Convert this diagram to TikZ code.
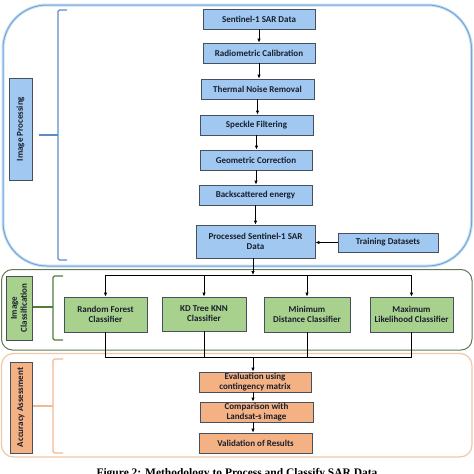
\documentclass[tikz,border=0pt]{standalone}
\usepackage{fontspec}
\setmainfont{Carlito}
\newfontfamily\capfont{Liberation Serif}
\usetikzlibrary{arrows.meta}
\definecolor{bfill}{RGB}{160,200,240}
\definecolor{gfill}{RGB}{169,209,142}
\definecolor{ofill}{RGB}{244,177,131}
\definecolor{edge}{RGB}{70,80,95}
\definecolor{bframe}{RGB}{115,165,215}
\definecolor{bglow}{RGB}{200,225,245}
\definecolor{gframe}{RGB}{100,120,85}
\definecolor{oframe}{RGB}{238,200,170}
\definecolor{bbrack}{RGB}{90,140,200}
\definecolor{gbrack}{RGB}{84,125,60}
\definecolor{obrack}{RGB}{240,185,145}
\definecolor{txt}{RGB}{25,30,45}
\tikzset{
  box/.style={draw=edge, line width=0.8pt, align=center, inner sep=1pt, text=txt,
    font=\fontsize{9}{10}\selectfont\bfseries},
  bluebox/.style={box, fill=bfill},
  greenbox/.style={box, fill=gfill},
  orangebox/.style={box, fill=ofill},
  labelbox/.style={box, rotate=90},
  arr/.style={-{Latex[length=4pt,width=3.5pt]}, line width=0.8pt, black},
  ln/.style={line width=0.8pt, black},
  brk/.style={line width=1.4pt, rounded corners=1.5pt},
}
\begin{document}
\begin{tikzpicture}[x=1pt,y=-1pt]
\useasboundingbox (0,0) rectangle (474,474);
\clip (0,0) rectangle (474,474);
% section frames
\draw[bglow, line width=3pt, rounded corners=44pt] (3,5) rectangle (471.5,266);
\draw[bframe, line width=1pt, rounded corners=44pt] (3,5) rectangle (471.5,266);
\draw[gframe, line width=1pt, rounded corners=11pt] (1.5,269.5) rectangle (472,350);
\draw[oframe, line width=1.2pt, rounded corners=12pt] (1.5,353.5) rectangle (472,457);
% brackets
\draw[brk, bbrack] (67,10) -- (58,10) -- (58,260) -- (67,260);
\draw[brk, bbrack] (39,135) -- (58,135);
\draw[brk, gbrack] (63,276) -- (53,276) -- (53,340) -- (63,340);
\draw[brk, gbrack] (33,307) -- (53,307);
\draw[brk, obrack] (63,359) -- (53,359) -- (53,453) -- (63,453);
\draw[brk, obrack] (33,406) -- (53,406);
% section labels
\node[labelbox, fill=bfill, minimum width=102pt, minimum height=23pt] (l1) at (20.5,129) {Image Processing};
\node[labelbox, fill=gfill, minimum width=64pt, minimum height=26pt] (l2) at (19,308) {Image\\Classification};
\node[labelbox, fill=ofill, minimum width=91pt, minimum height=22pt] (l3) at (21,407.5) {Accuracy Assessment};
% processing chain
\node[bluebox, minimum width=112pt, minimum height=20pt] (s1) at (259,19) {Sentinel-1 SAR Data};
\node[bluebox, minimum width=112pt, minimum height=20pt] (s2) at (259,53) {Radiometric Calibration};
\node[bluebox, minimum width=113pt, minimum height=20pt] (s3) at (257.5,89) {Thermal Noise Removal};
\node[bluebox, minimum width=113pt, minimum height=20pt] (s4) at (256.5,125) {Speckle Filtering};
\node[bluebox, minimum width=112pt, minimum height=20pt] (s5) at (256,160) {Geometric Correction};
\node[bluebox, minimum width=113pt, minimum height=20pt] (s6) at (255.5,195) {Backscattered energy};
\node[bluebox, minimum width=119pt, minimum height=33pt] (s7) at (255.5,241.5) {Processed Sentinel-1 SAR\\Data};
\node[bluebox, minimum width=100pt, minimum height=19pt] (tr) at (388,242.5) {Training Datasets};
\draw[arr] (s1.south) -- (s1.south |- s2.north);
\draw[arr] (s2.south) -- (s2.south |- s3.north);
\draw[arr] (s3.south) -- (s3.south |- s4.north);
\draw[arr] (s4.south) -- (s4.south |- s5.north);
\draw[arr] (s5.south) -- (s5.south |- s6.north);
\draw[arr] (s6.south) -- (s6.south |- s7.north);
\draw[arr] (tr.west) -- (s7.east |- tr.west);
% classifiers
\node[greenbox, minimum width=83pt, minimum height=35pt] (c1) at (105.5,314.5) {Random Forest\\Classifier};
\node[greenbox, minimum width=84pt, minimum height=34pt] (c2) at (204,314) {KD Tree KNN\\Classifier};
\node[greenbox, minimum width=86pt, minimum height=35pt] (c3) at (307,314.5) {Minimum\\Distance Classifier};
\node[greenbox, minimum width=83pt, minimum height=35pt] (c4) at (411.5,314.5) {Maximum\\Likelihood Classifier};
\coordinate (jt) at (253,275);
\coordinate (jb) at (253,357);
\draw[arr] (s7.south -| jt) -- (jt);
\draw[ln] (c1.north |- jt) -- (c4.north |- jt);
\draw[arr] (c1.north |- jt) -- (c1.north);
\draw[arr] (c2.north |- jt) -- (c2.north);
\draw[arr] (c3.north |- jt) -- (c3.north);
\draw[arr] (c4.north |- jt) -- (c4.north);
\draw[ln] (c1.south) -- (c1.south |- jb) -- (c4.south |- jb) -- (c4.south);
\draw[ln] (c2.south) -- (c2.south |- jb);
\draw[ln] (c3.south) -- (c3.south |- jb);
% accuracy
\node[orangebox, minimum width=112pt, minimum height=20pt] (e1) at (255,382) {Evaluation using\\contingency matrix};
\node[orangebox, minimum width=113pt, minimum height=20pt] (e2) at (256.5,412) {Comparison with\\Landsat-s image};
\node[orangebox, minimum width=113pt, minimum height=20pt] (e3) at (255.5,443) {Validation of Results};
\draw[arr] (jb) -- (jb |- e1.north);
\draw[arr] (e1.south -| jb) -- (jb |- e2.north);
\draw[arr] (e2.south -| jb) -- (jb |- e3.north);
% caption
\node[anchor=base, inner sep=0, font=\capfont\fontsize{11.5}{13}\selectfont\bfseries] (cap) at (237,476) {Figure 2: Methodology to Process and Classify SAR Data};
\end{tikzpicture}
\end{document}
